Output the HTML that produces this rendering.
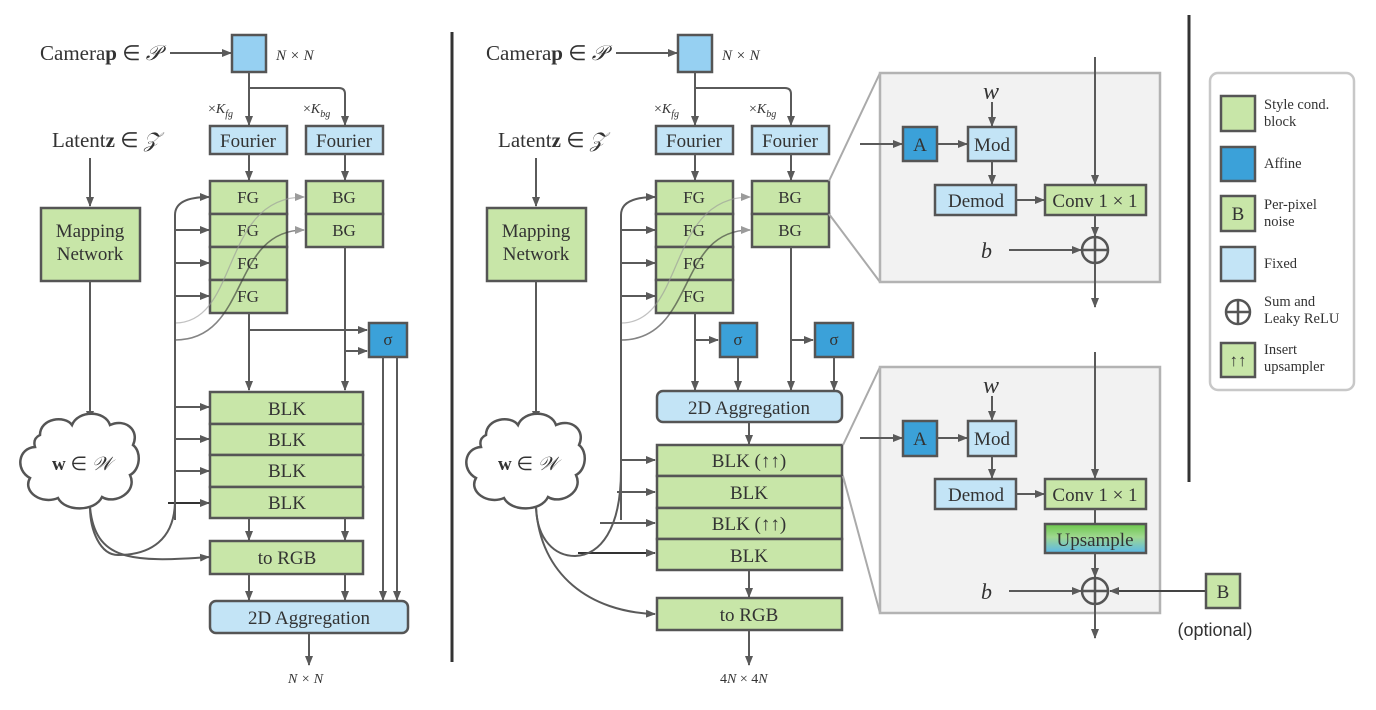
<!DOCTYPE html>
<html><head><meta charset="utf-8"><style>
body{margin:0;background:#fff}
svg{display:block}
text{font-family:"Liberation Serif",serif;fill:#333}
.b{stroke:#555;stroke-width:2.5}
.g{fill:#c8e6a8}
.lb{fill:#c3e4f6}
.sq{fill:#96d0f2}
.af{fill:#3ba1d9}
.l{stroke:#5a5a5a;stroke-width:2;fill:none}
.t{font-size:19px;text-anchor:middle}
.s{font-size:17px;text-anchor:middle}
.lg{font-size:14.5px}
</style></head><body>
<svg width="1376" height="710" viewBox="0 0 1376 710" xmlns="http://www.w3.org/2000/svg">
<defs>
<marker id="a" markerWidth="10" markerHeight="10" refX="9" refY="5" orient="auto" markerUnits="userSpaceOnUse" viewBox="0 0 10 10"><path d="M0,1 L10,5 L0,9z" fill="#5a5a5a"/></marker>
<linearGradient id="ug" x1="0" y1="0" x2="0" y2="1"><stop offset="0" stop-color="#6cc84a"/><stop offset="0.45" stop-color="#9fd890"/><stop offset="1" stop-color="#5ab8ea"/></linearGradient>
</defs>

<!-- ============ LEFT PANEL ============ -->
<text x="40" y="60" font-size="21">Camera<tspan font-weight="bold">p</tspan> ∈ <tspan font-style="italic">𝒫</tspan></text>
<line class="l" x1="170" y1="53" x2="231" y2="53" marker-end="url(#a)"/>
<rect class="b sq" x="232" y="35" width="34" height="37"/>
<text x="276" y="60" font-size="15" font-style="italic">N × N</text>
<path class="l" d="M249,72 V125" marker-end="url(#a)"/>
<path class="l" d="M249,88 H339 Q345,88 345,94 V125" marker-end="url(#a)"/>
<text x="208" y="113" font-size="14">×<tspan font-style="italic">K</tspan><tspan font-size="10" font-style="italic" dy="4">fg</tspan></text>
<text x="303" y="113" font-size="14">×<tspan font-style="italic">K</tspan><tspan font-size="10" font-style="italic" dy="4">bg</tspan></text>
<rect class="b lb" x="210" y="126" width="77" height="28"/><text class="t" x="248" y="147">Fourier</text>
<rect class="b lb" x="306" y="126" width="77" height="28"/><text class="t" x="344" y="147">Fourier</text>
<path class="l" d="M249,154 V180" marker-end="url(#a)"/>
<path class="l" d="M345,154 V180" marker-end="url(#a)"/>
<text x="52" y="147" font-size="21">Latent<tspan font-weight="bold">z</tspan> ∈ <tspan font-style="italic">𝒵</tspan></text>
<path class="l" d="M90,158 V206" marker-end="url(#a)"/>
<rect class="b g" x="41" y="208" width="99" height="73"/>
<text class="t" x="90" y="237">Mapping</text><text class="t" x="90" y="260">Network</text>
<path class="l" d="M90,281 V420" marker-end="url(#a)"/>
<rect class="b g" x="210" y="181" width="77" height="33"/><text class="s" x="248" y="203">FG</text>
<rect class="b g" x="210" y="214" width="77" height="33"/><text class="s" x="248" y="236">FG</text>
<rect class="b g" x="210" y="247" width="77" height="33"/><text class="s" x="248" y="269">FG</text>
<rect class="b g" x="210" y="280" width="77" height="33"/><text class="s" x="248" y="302">FG</text>
<rect class="b g" x="306" y="181" width="77" height="33"/><text class="s" x="344" y="203">BG</text>
<rect class="b g" x="306" y="214" width="77" height="33"/><text class="s" x="344" y="236">BG</text>
<path d="M175,323 C240,323 220,197 304,197" stroke="#999" stroke-width="1.3" fill="none" opacity="0.6" marker-end="url(#a)"/>
<path d="M175,340 C250,340 230,230 304,230" stroke="#333" stroke-width="1.6" fill="none" opacity="0.6" marker-end="url(#a)"/>
<path class="l" d="M175,520 V215 Q175,197 209,197" marker-end="url(#a)"/>
<path class="l" d="M175,230 H209" marker-end="url(#a)"/>
<path class="l" d="M175,263 H209" marker-end="url(#a)"/>
<path class="l" d="M175,296 H209" marker-end="url(#a)"/>
<path class="l" d="M175,407 H209" marker-end="url(#a)"/>
<path class="l" d="M175,439 H209" marker-end="url(#a)"/>
<path class="l" d="M175,471 H209" marker-end="url(#a)"/>
<path d="M168,503 H209" stroke="#333" stroke-width="2" marker-end="url(#a)"/>
<path class="l" d="M175,500 C175,540 150,555 118,555 C100,555 90,530 90,507"/>
<path class="l" d="M90,507 C95,560 130,563 209,557" marker-end="url(#a)"/>
<rect class="b af" x="369" y="323" width="38" height="34"/><text class="s" x="388" y="345">σ</text>
<path class="l" d="M249,313 V390" marker-end="url(#a)"/>
<path class="l" d="M249,330 H367" marker-end="url(#a)"/>
<path class="l" d="M345,247 V390" marker-end="url(#a)"/>
<path class="l" d="M345,351 H367" marker-end="url(#a)"/>
<path class="l" d="M383,357 V600" marker-end="url(#a)"/>
<path class="l" d="M397,357 V600" marker-end="url(#a)"/>
<rect class="b g" x="210" y="392" width="153" height="32"/><text class="t" x="287" y="415">BLK</text>
<rect class="b g" x="210" y="424" width="153" height="31"/><text class="t" x="287" y="446">BLK</text>
<rect class="b g" x="210" y="455" width="153" height="32"/><text class="t" x="287" y="477">BLK</text>
<rect class="b g" x="210" y="487" width="153" height="31"/><text class="t" x="287" y="509">BLK</text>
<path class="l" d="M249,518 V540" marker-end="url(#a)"/>
<path class="l" d="M345,518 V540" marker-end="url(#a)"/>
<rect class="b g" x="210" y="541" width="153" height="33"/><text class="t" x="287" y="564">to RGB</text>
<path class="l" d="M249,574 V600" marker-end="url(#a)"/>
<path class="l" d="M345,574 V600" marker-end="url(#a)"/>
<rect class="b lb" x="210" y="601" width="198" height="32" rx="6"/><text class="t" x="309" y="624">2D Aggregation</text>
<path class="l" d="M309,633 V665" marker-end="url(#a)"/>
<text x="288" y="683" font-size="14" font-style="italic">N × N</text>
<path class="b" fill="#fff" d="M40,435 C40,418 65,415 72,425 C78,410 105,410 110,425 C125,418 140,430 133,445 C142,452 140,470 130,475 C138,492 115,505 102,497 C95,512 65,512 58,498 C42,505 22,492 30,478 C15,470 18,448 35,447 C33,440 36,437 40,435z"/>
<text x="52" y="470" font-size="19"><tspan font-weight="bold">w</tspan> ∈ <tspan font-style="italic">𝒲</tspan></text>

<line x1="452" y1="32" x2="452" y2="662" stroke="#333" stroke-width="3"/>

<!-- ============ RIGHT PANEL ============ -->
<text x="486" y="60" font-size="21">Camera<tspan font-weight="bold">p</tspan> ∈ <tspan font-style="italic">𝒫</tspan></text>
<line class="l" x1="616" y1="53" x2="677" y2="53" marker-end="url(#a)"/>
<rect class="b sq" x="678" y="35" width="34" height="37"/>
<text x="722" y="60" font-size="15" font-style="italic">N × N</text>
<path class="l" d="M695,72 V125" marker-end="url(#a)"/>
<path class="l" d="M695,88 H785 Q791,88 791,94 V125" marker-end="url(#a)"/>
<text x="654" y="113" font-size="14">×<tspan font-style="italic">K</tspan><tspan font-size="10" font-style="italic" dy="4">fg</tspan></text>
<text x="749" y="113" font-size="14">×<tspan font-style="italic">K</tspan><tspan font-size="10" font-style="italic" dy="4">bg</tspan></text>
<rect class="b lb" x="656" y="126" width="77" height="28"/><text class="t" x="694" y="147">Fourier</text>
<rect class="b lb" x="752" y="126" width="77" height="28"/><text class="t" x="790" y="147">Fourier</text>
<path class="l" d="M695,154 V180" marker-end="url(#a)"/>
<path class="l" d="M791,154 V180" marker-end="url(#a)"/>
<text x="498" y="147" font-size="21">Latent<tspan font-weight="bold">z</tspan> ∈ <tspan font-style="italic">𝒵</tspan></text>
<path class="l" d="M536,158 V206" marker-end="url(#a)"/>
<rect class="b g" x="487" y="208" width="99" height="73"/>
<text class="t" x="536" y="237">Mapping</text><text class="t" x="536" y="260">Network</text>
<path class="l" d="M536,281 V420" marker-end="url(#a)"/>
<rect class="b g" x="656" y="181" width="77" height="33"/><text class="s" x="694" y="203">FG</text>
<rect class="b g" x="656" y="214" width="77" height="33"/><text class="s" x="694" y="236">FG</text>
<rect class="b g" x="656" y="247" width="77" height="33"/><text class="s" x="694" y="269">FG</text>
<rect class="b g" x="656" y="280" width="77" height="33"/><text class="s" x="694" y="302">FG</text>
<rect class="b g" x="752" y="181" width="77" height="33"/><text class="s" x="790" y="203">BG</text>
<rect class="b g" x="752" y="214" width="77" height="33"/><text class="s" x="790" y="236">BG</text>
<path d="M621,323 C686,323 666,197 750,197" stroke="#999" stroke-width="1.3" fill="none" opacity="0.6" marker-end="url(#a)"/>
<path d="M621,340 C696,340 676,230 750,230" stroke="#333" stroke-width="1.6" fill="none" opacity="0.6" marker-end="url(#a)"/>
<path class="l" d="M621,520 V215 Q621,197 655,197" marker-end="url(#a)"/>
<path class="l" d="M621,230 H655" marker-end="url(#a)"/>
<path class="l" d="M621,263 H655" marker-end="url(#a)"/>
<path class="l" d="M621,296 H655" marker-end="url(#a)"/>
<path class="l" d="M621,460 H655" marker-end="url(#a)"/>
<path class="l" d="M617,492 H655" marker-end="url(#a)"/>
<path class="l" d="M600,523 H655" marker-end="url(#a)"/>
<path d="M578,553 H655" stroke="#333" stroke-width="2" marker-end="url(#a)"/>
<path class="l" d="M621,470 C621,530 600,555 575,556 C555,556 537,540 536,507"/>
<path class="l" d="M536,507 C540,575 590,612 655,614" marker-end="url(#a)"/>
<rect class="b af" x="720" y="323" width="37" height="34"/><text class="s" x="738" y="345">σ</text>
<rect class="b af" x="815" y="323" width="38" height="34"/><text class="s" x="834" y="345">σ</text>
<path class="l" d="M695,313 V390" marker-end="url(#a)"/>
<path class="l" d="M695,340 H718" marker-end="url(#a)"/>
<path class="l" d="M738,357 V390" marker-end="url(#a)"/>
<path class="l" d="M791,247 V390" marker-end="url(#a)"/>
<path class="l" d="M791,340 H813" marker-end="url(#a)"/>
<path class="l" d="M834,357 V390" marker-end="url(#a)"/>
<rect class="b lb" x="657" y="391" width="185" height="31" rx="6"/><text class="t" x="749" y="414">2D Aggregation</text>
<path class="l" d="M749,422 V444" marker-end="url(#a)"/>
<rect class="b g" x="657" y="445" width="185" height="31"/><text class="t" x="749" y="467">BLK (↑↑)</text>
<rect class="b g" x="657" y="476" width="185" height="32"/><text class="t" x="749" y="499">BLK</text>
<rect class="b g" x="657" y="508" width="185" height="31"/><text class="t" x="749" y="530">BLK (↑↑)</text>
<rect class="b g" x="657" y="539" width="185" height="31"/><text class="t" x="749" y="562">BLK</text>
<path class="l" d="M749,570 V597" marker-end="url(#a)"/>
<rect class="b g" x="657" y="598" width="185" height="32"/><text class="t" x="749" y="621">to RGB</text>
<path class="l" d="M749,630 V665" marker-end="url(#a)"/>
<text x="720" y="683" font-size="14">4<tspan font-style="italic">N</tspan> × 4<tspan font-style="italic">N</tspan></text>
<path class="b" fill="#fff" d="M486,435 C486,418 511,415 518,425 C524,410 551,410 556,425 C571,418 586,430 579,445 C588,452 586,470 576,475 C584,492 561,505 548,497 C541,512 511,512 504,498 C488,505 468,492 476,478 C461,470 464,448 481,447 C479,440 482,437 486,435z"/>
<text x="498" y="470" font-size="19"><tspan font-weight="bold">w</tspan> ∈ <tspan font-style="italic">𝒲</tspan></text>

<g stroke="#aaa" stroke-width="2" fill="none">
<path d="M829,181 L880,73"/><path d="M829,214 L880,282"/>
<path d="M843,445 L880,367"/><path d="M843,476 L880,613"/>
</g>

<rect x="880" y="73" width="280" height="209" fill="#f2f2f2" stroke="#b3b3b3" stroke-width="2.5"/>
<text x="983" y="99" font-size="24" font-style="italic">w</text>
<path class="l" d="M992,102 V126" marker-end="url(#a)"/>
<path class="l" d="M860,144 H902" marker-end="url(#a)"/>
<rect class="b af" x="903" y="127" width="34" height="34"/><text class="t" x="920" y="151">A</text>
<path class="l" d="M937,144 H967" marker-end="url(#a)"/>
<rect class="b lb" x="968" y="127" width="48" height="34"/><text class="t" x="992" y="151">Mod</text>
<path class="l" d="M992,161 V184" marker-end="url(#a)"/>
<rect class="b lb" x="935" y="185" width="81" height="30"/><text class="t" x="976" y="207">Demod</text>
<path class="l" d="M1016,200 H1044" marker-end="url(#a)"/>
<rect class="b g" x="1045" y="185" width="101" height="30"/><text class="t" x="1095" y="207">Conv 1 × 1</text>
<path class="l" d="M1095,57 V184" marker-end="url(#a)"/>
<path class="l" d="M1095,215 V236" marker-end="url(#a)"/>
<text x="981" y="258" font-size="22" font-style="italic">b</text>
<path class="l" d="M1009,250 H1081" marker-end="url(#a)"/>
<circle cx="1095" cy="250" r="13" fill="none" stroke="#555" stroke-width="2.5"/>
<path d="M1082,250 H1108 M1095,237 V263" stroke="#555" stroke-width="2.5"/>
<path class="l" d="M1095,263 V307" marker-end="url(#a)"/>

<rect x="880" y="367" width="280" height="246" fill="#f2f2f2" stroke="#b3b3b3" stroke-width="2.5"/>
<text x="983" y="393" font-size="24" font-style="italic">w</text>
<path class="l" d="M992,396 V420" marker-end="url(#a)"/>
<path class="l" d="M860,438 H902" marker-end="url(#a)"/>
<rect class="b af" x="903" y="421" width="34" height="35"/><text class="t" x="920" y="445">A</text>
<path class="l" d="M937,438 H967" marker-end="url(#a)"/>
<rect class="b lb" x="968" y="421" width="48" height="35"/><text class="t" x="992" y="445">Mod</text>
<path class="l" d="M992,456 V478" marker-end="url(#a)"/>
<rect class="b lb" x="935" y="479" width="81" height="30"/><text class="t" x="976" y="501">Demod</text>
<path class="l" d="M1016,494 H1044" marker-end="url(#a)"/>
<rect class="b g" x="1045" y="479" width="101" height="30"/><text class="t" x="1095" y="501">Conv 1 × 1</text>
<path class="l" d="M1095,352 V478" marker-end="url(#a)"/>
<path class="l" d="M1095,509 V524"/>
<rect class="b" fill="url(#ug)" x="1045" y="524" width="101" height="29"/><text class="t" x="1095" y="546">Upsample</text>
<path class="l" d="M1095,553 V577" marker-end="url(#a)"/>
<text x="981" y="599" font-size="22" font-style="italic">b</text>
<path class="l" d="M1009,591 H1081" marker-end="url(#a)"/>
<circle cx="1095" cy="591" r="13" fill="none" stroke="#555" stroke-width="2.5"/>
<path d="M1082,591 H1108 M1095,578 V604" stroke="#555" stroke-width="2.5"/>
<path d="M1206,591 H1110" stroke="#444" stroke-width="2" marker-end="url(#a)"/>
<rect class="b g" x="1206" y="574" width="34" height="34"/><text class="t" x="1223" y="598">B</text>
<text x="1215" y="636" font-size="18" text-anchor="middle" style="font-family:'Liberation Sans',sans-serif">(optional)</text>
<path class="l" d="M1095,604 V638" marker-end="url(#a)"/>

<line x1="1189" y1="15" x2="1189" y2="482" stroke="#333" stroke-width="3"/>

<rect x="1210" y="73" width="144" height="317" rx="8" fill="#fff" stroke="#c8c8c8" stroke-width="2.5"/>
<rect class="b g" x="1221" y="96" width="34" height="35"/>
<text class="lg" x="1264" y="109">Style cond.</text><text class="lg" x="1264" y="126">block</text>
<rect class="b af" x="1221" y="147" width="34" height="34"/>
<text class="lg" x="1264" y="168">Affine</text>
<rect class="b g" x="1221" y="196" width="34" height="35"/><text class="t" x="1238" y="220">B</text>
<text class="lg" x="1264" y="209">Per-pixel</text><text class="lg" x="1264" y="226">noise</text>
<rect class="b lb" x="1221" y="247" width="34" height="34"/>
<text class="lg" x="1264" y="268">Fixed</text>
<circle cx="1238" cy="312" r="12" fill="none" stroke="#555" stroke-width="2.5"/>
<path d="M1226,312 H1250 M1238,300 V324" stroke="#555" stroke-width="2.5"/>
<text class="lg" x="1264" y="306">Sum and</text><text class="lg" x="1264" y="323">Leaky ReLU</text>
<rect class="b g" x="1221" y="343" width="34" height="34"/><text class="s" x="1238" y="366">↑↑</text>
<text class="lg" x="1264" y="354">Insert</text><text class="lg" x="1264" y="371">upsampler</text>
</svg>
</body></html>
